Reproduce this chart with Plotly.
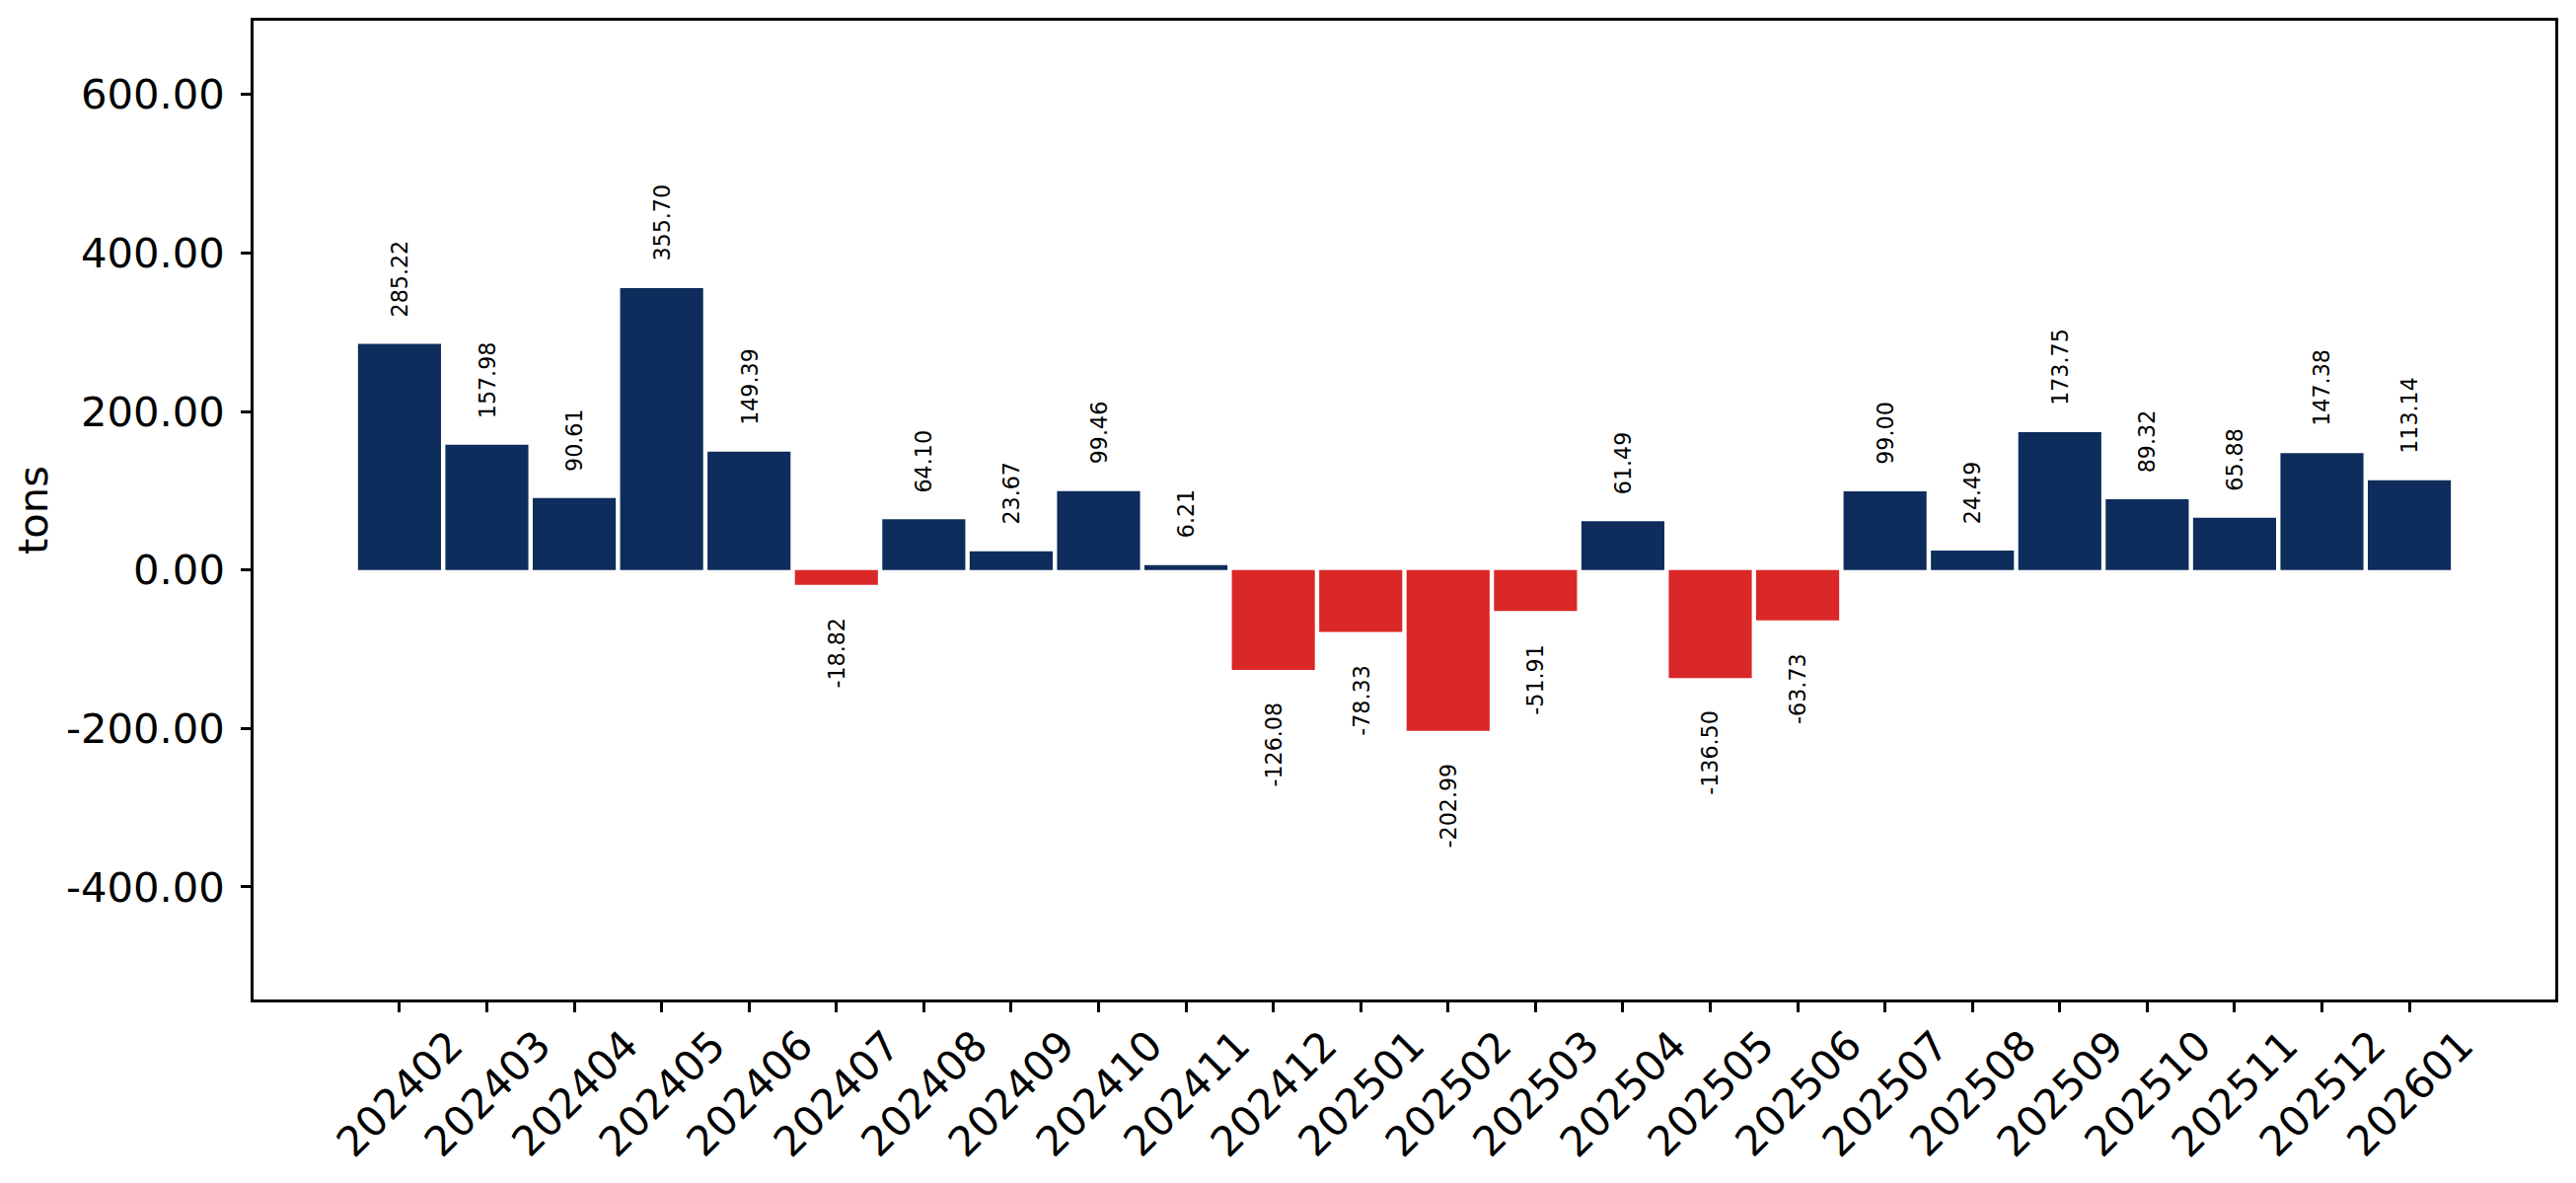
import plotly.graph_objects as go

# ---- data ----
months = ["202402", "202403", "202404", "202405", "202406", "202407", "202408",
          "202409", "202410", "202411", "202412", "202501", "202502", "202503",
          "202504", "202505", "202506", "202507", "202508", "202509", "202510",
          "202511", "202512", "202601"]
values = [285.22, 157.98, 90.61, 355.70, 149.39, -18.82, 64.10, 23.67, 99.46,
          6.21, -126.08, -78.33, -202.99, -51.91, 61.49, -136.50, -63.73,
          99.00, 24.49, 173.75, 89.32, 65.88, 147.38, 113.14]
y_tick_values = [-400, -200, 0, 200, 400, 600]
y_tick_labels = [f"{v:.2f}" for v in y_tick_values]
y_title = "tons"

POS_COLOR = "#0E2D5C"
NEG_COLOR = "#DA2727"
FONT = "DejaVu Sans"
BIG = 41.7
SMALL = 22.2

colors = [POS_COLOR if v >= 0 else NEG_COLOR for v in values]

fig = go.Figure()
fig.add_trace(go.Bar(
    x=months, y=values, width=0.95,
    marker=dict(color=colors, line=dict(width=0)),
    hoverinfo="x+y",
))

annotations = []
# value labels (x given as category index)
for i, v in enumerate(values):
    pos = v >= 0
    annotations.append(dict(x=i, y=v, xref="x", yref="y", text=f"{v:.2f}",
                            textangle=-90, showarrow=False,
                            xanchor="center",
                            yanchor="bottom" if pos else "top",
                            yshift=27 if pos else -33,
                            borderpad=0, borderwidth=0,
                            font=dict(family=FONT, size=SMALL, color="black")))
# rotated category labels (centered under ticks)
for i, m in enumerate(months):
    annotations.append(dict(x=i, y=0, xref="x", yref="paper", text=m,
                            textangle=-45, showarrow=False,
                            xanchor="center", yanchor="middle", yshift=-95,
                            borderpad=0, borderwidth=0,
                            font=dict(family=FONT, size=BIG, color="black")))

fig.update_layout(
    width=2611, height=1199,
    margin=dict(l=257, r=21, t=21, b=186, autoexpand=False),
    paper_bgcolor="white", plot_bgcolor="white",
    showlegend=False,
    font=dict(family=FONT, size=BIG, color="black"),
    annotations=annotations,
    xaxis=dict(type="category", range=[-1.67, 24.67], showgrid=False,
               zeroline=False, showline=True, linecolor="black", linewidth=2.5,
               mirror=True, ticks="outside", ticklen=10, tickwidth=2.5,
               tickcolor="black", showticklabels=False),
    yaxis=dict(range=[-542, 693], showgrid=False, zeroline=False,
               showline=True, linecolor="black", linewidth=2.5, mirror=True,
               ticks="outside", ticklen=10, tickwidth=2.5, tickcolor="black",
               tickvals=y_tick_values, ticktext=y_tick_labels,
               ticklabelstandoff=8,
               tickfont=dict(family=FONT, size=BIG, color="black"),
               title=dict(text=y_title, standoff=6,
                          font=dict(family=FONT, size=BIG, color="black"))),
)

fig.write_html("out.html")
